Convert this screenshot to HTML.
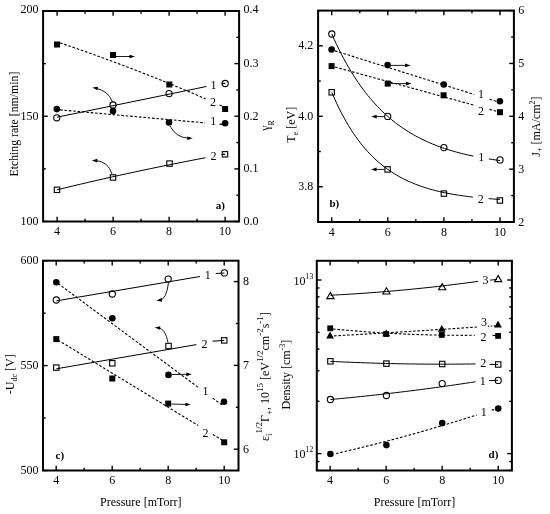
<!DOCTYPE html>
<html><head><meta charset="utf-8"><style>
html,body{margin:0;padding:0;background:#fff;}
svg{display:block;}
text{font-family:'Liberation Serif', 'Times New Roman', serif;fill:#000;}
</style></head><body>
<svg width="550" height="514" viewBox="0 0 550 514">
<rect width="550" height="514" fill="#fff"/>
<line x1="57.1" y1="221.5" x2="57.1" y2="216.8" stroke="#000" stroke-width="1.4"/>
<line x1="57.1" y1="11" x2="57.1" y2="15.7" stroke="#000" stroke-width="1.4"/>
<text x="57.1" y="235.3" font-size="12" text-anchor="middle" font-weight="normal">4</text>
<line x1="85.1" y1="221.5" x2="85.1" y2="218.8" stroke="#000" stroke-width="1.4"/>
<line x1="85.1" y1="11" x2="85.1" y2="13.7" stroke="#000" stroke-width="1.4"/>
<line x1="113.1" y1="221.5" x2="113.1" y2="216.8" stroke="#000" stroke-width="1.4"/>
<line x1="113.1" y1="11" x2="113.1" y2="15.7" stroke="#000" stroke-width="1.4"/>
<text x="113.1" y="235.3" font-size="12" text-anchor="middle" font-weight="normal">6</text>
<line x1="141.1" y1="221.5" x2="141.1" y2="218.8" stroke="#000" stroke-width="1.4"/>
<line x1="141.1" y1="11" x2="141.1" y2="13.7" stroke="#000" stroke-width="1.4"/>
<line x1="169.1" y1="221.5" x2="169.1" y2="216.8" stroke="#000" stroke-width="1.4"/>
<line x1="169.1" y1="11" x2="169.1" y2="15.7" stroke="#000" stroke-width="1.4"/>
<text x="169.1" y="235.3" font-size="12" text-anchor="middle" font-weight="normal">8</text>
<line x1="197.1" y1="221.5" x2="197.1" y2="218.8" stroke="#000" stroke-width="1.4"/>
<line x1="197.1" y1="11" x2="197.1" y2="13.7" stroke="#000" stroke-width="1.4"/>
<line x1="225.1" y1="221.5" x2="225.1" y2="216.8" stroke="#000" stroke-width="1.4"/>
<line x1="225.1" y1="11" x2="225.1" y2="15.7" stroke="#000" stroke-width="1.4"/>
<text x="225.1" y="235.3" font-size="12" text-anchor="middle" font-weight="normal">10</text>
<line x1="43.1" y1="221.5" x2="47.8" y2="221.5" stroke="#000" stroke-width="1.4"/>
<text x="38.6" y="225.1" font-size="12" text-anchor="end" font-weight="normal">100</text>
<line x1="43.1" y1="168.88" x2="45.8" y2="168.88" stroke="#000" stroke-width="1.4"/>
<line x1="43.1" y1="116.25" x2="47.8" y2="116.25" stroke="#000" stroke-width="1.4"/>
<text x="38.6" y="119.85" font-size="12" text-anchor="end" font-weight="normal">150</text>
<line x1="43.1" y1="63.62" x2="45.8" y2="63.62" stroke="#000" stroke-width="1.4"/>
<line x1="43.1" y1="11" x2="47.8" y2="11" stroke="#000" stroke-width="1.4"/>
<text x="38.6" y="13.4" font-size="12" text-anchor="end" font-weight="normal">200</text>
<line x1="239.1" y1="221.5" x2="234.4" y2="221.5" stroke="#000" stroke-width="1.4"/>
<text x="243.4" y="225.1" font-size="12" text-anchor="start" font-weight="normal">0.0</text>
<line x1="239.1" y1="195.19" x2="236.4" y2="195.19" stroke="#000" stroke-width="1.4"/>
<line x1="239.1" y1="168.88" x2="234.4" y2="168.88" stroke="#000" stroke-width="1.4"/>
<text x="243.4" y="172.47" font-size="12" text-anchor="start" font-weight="normal">0.1</text>
<line x1="239.1" y1="142.56" x2="236.4" y2="142.56" stroke="#000" stroke-width="1.4"/>
<line x1="239.1" y1="116.25" x2="234.4" y2="116.25" stroke="#000" stroke-width="1.4"/>
<text x="243.4" y="119.85" font-size="12" text-anchor="start" font-weight="normal">0.2</text>
<line x1="239.1" y1="89.94" x2="236.4" y2="89.94" stroke="#000" stroke-width="1.4"/>
<line x1="239.1" y1="63.62" x2="234.4" y2="63.62" stroke="#000" stroke-width="1.4"/>
<text x="243.4" y="67.22" font-size="12" text-anchor="start" font-weight="normal">0.3</text>
<line x1="239.1" y1="37.31" x2="236.4" y2="37.31" stroke="#000" stroke-width="1.4"/>
<line x1="239.1" y1="11" x2="234.4" y2="11" stroke="#000" stroke-width="1.4"/>
<text x="243.4" y="13.4" font-size="12" text-anchor="start" font-weight="normal">0.4</text>
<polyline points="60,42.86 63.73,44.12 67.46,45.39 71.19,46.67 74.92,47.96 78.65,49.25 82.38,50.56 86.12,51.87 89.85,53.2 93.58,54.53 97.31,55.87 101.04,57.22 104.77,58.59 108.5,59.95 112.23,61.33 115.96,62.72 119.69,64.12 123.42,65.52 127.15,66.94 130.88,68.36 134.62,69.8 138.35,71.24 142.08,72.69 145.81,74.15 149.54,75.62 153.27,77.1 157,78.59 160.73,80.09 164.46,81.59 168.19,83.11 171.92,84.63 175.65,86.17 179.38,87.71 183.12,89.26 186.85,90.82 190.58,92.39 194.31,93.97 198.04,95.56 201.77,97.16 205.5,98.77" fill="none" stroke="#000" stroke-width="1.1" stroke-dasharray="2.6 1.8"/>
<polyline points="219.5,104.88 220.75,105.43 222,105.98" fill="none" stroke="#000" stroke-width="1.1"/>
<polyline points="60,109.87 205,122.85" fill="none" stroke="#000" stroke-width="1.1" stroke-dasharray="2.6 1.8"/>
<polyline points="219.5,124.14 222,124.37" fill="none" stroke="#000" stroke-width="1.1"/>
<polyline points="57,117.2 206.4,86.5" fill="none" stroke="#000" stroke-width="1.0"/>
<polyline points="57,189.8 64.82,187.9 72.63,186.03 80.45,184.19 88.26,182.36 96.08,180.56 103.89,178.78 111.71,177.03 119.53,175.29 127.34,173.58 135.16,171.9 142.97,170.23 150.79,168.59 158.61,166.97 166.42,165.38 174.24,163.8 182.05,162.25 189.87,160.73 197.68,159.22 205.5,157.74" fill="none" stroke="#000" stroke-width="1.0"/>
<line x1="221.5" y1="83.8" x2="225.2" y2="83.3" stroke="#000" stroke-width="1.0"/>
<line x1="221.5" y1="154.3" x2="225.1" y2="154.3" stroke="#000" stroke-width="1.0"/>
<rect x="54" y="41.5" width="6.0" height="6.0" fill="#000"/>
<rect x="110" y="52" width="6.0" height="6.0" fill="#000"/>
<rect x="166.3" y="81.5" width="6.0" height="6.0" fill="#000"/>
<rect x="222.1" y="106" width="6.0" height="6.0" fill="#000"/>
<circle cx="56.8" cy="109.1" r="3.3" fill="#000"/>
<circle cx="113" cy="111" r="3.3" fill="#000"/>
<circle cx="169" cy="122.5" r="3.3" fill="#000"/>
<circle cx="225.1" cy="123.2" r="3.3" fill="#000"/>
<circle cx="56.8" cy="117.8" r="3.1" fill="none" stroke="#000" stroke-width="1.1"/>
<circle cx="113" cy="105" r="3.1" fill="none" stroke="#000" stroke-width="1.1"/>
<circle cx="169.1" cy="93.6" r="3.1" fill="none" stroke="#000" stroke-width="1.1"/>
<circle cx="225.2" cy="83.5" r="3.1" fill="none" stroke="#000" stroke-width="1.1"/>
<rect x="54.3" y="187.1" width="5.4" height="5.4" fill="none" stroke="#000" stroke-width="1.1"/>
<rect x="110.3" y="174.8" width="5.4" height="5.4" fill="none" stroke="#000" stroke-width="1.1"/>
<rect x="166.8" y="160.9" width="5.4" height="5.4" fill="none" stroke="#000" stroke-width="1.1"/>
<rect x="222.3" y="151.6" width="5.4" height="5.4" fill="none" stroke="#000" stroke-width="1.1"/>
<line x1="222" y1="83.6" x2="225.2" y2="83.3" stroke="#000" stroke-width="1.0"/>
<line x1="222.3" y1="154.3" x2="225.1" y2="154.3" stroke="#000" stroke-width="1.0"/>
<line x1="116" y1="56.5" x2="131.7" y2="56.5" stroke="#000" stroke-width="0.9"/>
<polygon points="135,56.5 129.5,58.3 129.5,54.7" fill="#000"/>
<path d="M112.5,101.8 Q108,90.5 95.55,88.2" fill="none" stroke="#000" stroke-width="0.9"/>
<polygon points="92.3,87.6 98.04,86.83 97.38,90.37" fill="#000"/>
<path d="M170,126 Q176,138 189.5,138.24" fill="none" stroke="#000" stroke-width="0.9"/>
<polygon points="192.8,138.3 187.27,140 187.33,136.4" fill="#000"/>
<path d="M112,174 Q108,161 95.1,160.52" fill="none" stroke="#000" stroke-width="0.9"/>
<polygon points="91.8,160.4 97.36,158.8 97.23,162.4" fill="#000"/>
<text x="213.6" y="88.7" font-size="12" text-anchor="middle" font-weight="normal">1</text>
<text x="213" y="106" font-size="12" text-anchor="middle" font-weight="normal">2</text>
<text x="213.2" y="124.5" font-size="12" text-anchor="middle" font-weight="normal">1</text>
<text x="213.4" y="159.8" font-size="12" text-anchor="middle" font-weight="normal">2</text>
<text x="220.4" y="208.8" font-size="11" text-anchor="middle" font-weight="bold">a)</text>
<text transform="translate(17.9,124.1) rotate(-90)" font-size="11.8" text-anchor="middle">Etching rate [nm/min]</text>
<text transform="translate(268.6,125.5) rotate(-90)" font-size="12" text-anchor="middle">&#947;<tspan font-size="8" dy="5.4">R</tspan></text>
<rect x="43.1" y="11" width="196" height="210.5" fill="none" stroke="#000" stroke-width="2.0" stroke-linejoin="miter"/>
<line x1="331.7" y1="222" x2="331.7" y2="217.3" stroke="#000" stroke-width="1.4"/>
<line x1="331.7" y1="10.6" x2="331.7" y2="15.3" stroke="#000" stroke-width="1.4"/>
<text x="331.7" y="235.8" font-size="12" text-anchor="middle" font-weight="normal">4</text>
<line x1="359.75" y1="222" x2="359.75" y2="219.3" stroke="#000" stroke-width="1.4"/>
<line x1="359.75" y1="10.6" x2="359.75" y2="13.3" stroke="#000" stroke-width="1.4"/>
<line x1="387.8" y1="222" x2="387.8" y2="217.3" stroke="#000" stroke-width="1.4"/>
<line x1="387.8" y1="10.6" x2="387.8" y2="15.3" stroke="#000" stroke-width="1.4"/>
<text x="387.8" y="235.8" font-size="12" text-anchor="middle" font-weight="normal">6</text>
<line x1="415.85" y1="222" x2="415.85" y2="219.3" stroke="#000" stroke-width="1.4"/>
<line x1="415.85" y1="10.6" x2="415.85" y2="13.3" stroke="#000" stroke-width="1.4"/>
<line x1="443.9" y1="222" x2="443.9" y2="217.3" stroke="#000" stroke-width="1.4"/>
<line x1="443.9" y1="10.6" x2="443.9" y2="15.3" stroke="#000" stroke-width="1.4"/>
<text x="443.9" y="235.8" font-size="12" text-anchor="middle" font-weight="normal">8</text>
<line x1="471.95" y1="222" x2="471.95" y2="219.3" stroke="#000" stroke-width="1.4"/>
<line x1="471.95" y1="10.6" x2="471.95" y2="13.3" stroke="#000" stroke-width="1.4"/>
<line x1="500" y1="222" x2="500" y2="217.3" stroke="#000" stroke-width="1.4"/>
<line x1="500" y1="10.6" x2="500" y2="15.3" stroke="#000" stroke-width="1.4"/>
<text x="500" y="235.8" font-size="12" text-anchor="middle" font-weight="normal">10</text>
<line x1="318.1" y1="222" x2="320.8" y2="222" stroke="#000" stroke-width="1.4"/>
<line x1="318.1" y1="186.77" x2="322.8" y2="186.77" stroke="#000" stroke-width="1.4"/>
<text x="313.2" y="190.37" font-size="12" text-anchor="end" font-weight="normal">3.8</text>
<line x1="318.1" y1="151.53" x2="320.8" y2="151.53" stroke="#000" stroke-width="1.4"/>
<line x1="318.1" y1="116.3" x2="322.8" y2="116.3" stroke="#000" stroke-width="1.4"/>
<text x="313.2" y="119.9" font-size="12" text-anchor="end" font-weight="normal">4.0</text>
<line x1="318.1" y1="81.07" x2="320.8" y2="81.07" stroke="#000" stroke-width="1.4"/>
<line x1="318.1" y1="45.83" x2="322.8" y2="45.83" stroke="#000" stroke-width="1.4"/>
<text x="313.2" y="49.43" font-size="12" text-anchor="end" font-weight="normal">4.2</text>
<line x1="318.1" y1="10.6" x2="320.8" y2="10.6" stroke="#000" stroke-width="1.4"/>
<line x1="513.9" y1="222" x2="509.2" y2="222" stroke="#000" stroke-width="1.4"/>
<text x="518.3" y="225.6" font-size="12" text-anchor="start" font-weight="normal">2</text>
<line x1="513.9" y1="195.57" x2="511.2" y2="195.57" stroke="#000" stroke-width="1.4"/>
<line x1="513.9" y1="169.15" x2="509.2" y2="169.15" stroke="#000" stroke-width="1.4"/>
<text x="518.3" y="172.75" font-size="12" text-anchor="start" font-weight="normal">3</text>
<line x1="513.9" y1="142.72" x2="511.2" y2="142.72" stroke="#000" stroke-width="1.4"/>
<line x1="513.9" y1="116.3" x2="509.2" y2="116.3" stroke="#000" stroke-width="1.4"/>
<text x="518.3" y="119.9" font-size="12" text-anchor="start" font-weight="normal">4</text>
<line x1="513.9" y1="89.88" x2="511.2" y2="89.88" stroke="#000" stroke-width="1.4"/>
<line x1="513.9" y1="63.45" x2="509.2" y2="63.45" stroke="#000" stroke-width="1.4"/>
<text x="518.3" y="67.05" font-size="12" text-anchor="start" font-weight="normal">5</text>
<line x1="513.9" y1="37.03" x2="511.2" y2="37.03" stroke="#000" stroke-width="1.4"/>
<line x1="513.9" y1="10.6" x2="509.2" y2="10.6" stroke="#000" stroke-width="1.4"/>
<text x="518.3" y="14.2" font-size="12" text-anchor="start" font-weight="normal">6</text>
<polyline points="331.8,34 334.2,39.37 336.6,44.52 339,49.47 341.4,54.22 343.8,58.77 346.2,63.15 348.6,67.35 351,71.39 353.4,75.26 355.8,78.97 358.2,82.54 360.6,85.97 363,89.26 365.4,92.41 367.8,95.45 370.2,98.36 372.6,101.15 375,103.83 377.4,106.41 379.8,108.88 382.2,111.25 384.6,113.53 387,115.71 389.4,117.81 391.8,119.83 394.2,121.76 396.6,123.62 399,125.4 401.4,127.11 403.8,128.76 406.2,130.34 408.6,131.85 411,133.3 413.4,134.7 415.8,136.04 418.2,137.33 420.6,138.56 423,139.75 425.4,140.88 427.8,141.98 430.2,143.02 432.6,144.03 435,145 437.4,145.93 439.8,146.82 442.2,147.67 444.6,148.49 447,149.28 449.4,150.04 451.8,150.76 454.2,151.46 456.6,152.13 459,152.77 461.4,153.39 463.8,153.98 466.2,154.55 468.6,155.1 471,155.62 473.4,156.12" fill="none" stroke="#000" stroke-width="1.0"/>
<polyline points="488.9,158.92 492.6,159.49 496.3,160.02 500,160.52" fill="none" stroke="#000" stroke-width="1.0"/>
<polyline points="331.8,92.4 334.19,97.91 336.58,103.15 338.97,108.13 341.37,112.85 343.76,117.34 346.15,121.61 348.54,125.66 350.93,129.5 353.32,133.16 355.72,136.63 358.11,139.93 360.5,143.06 362.89,146.03 365.28,148.86 367.67,151.54 370.06,154.09 372.46,156.51 374.85,158.81 377.24,161 379.63,163.07 382.02,165.05 384.41,166.92 386.81,168.7 389.2,170.39 391.59,171.99 393.98,173.52 396.37,174.96 398.76,176.34 401.15,177.65 403.55,178.89 405.94,180.07 408.33,181.19 410.72,182.25 413.11,183.26 415.5,184.22 417.89,185.13 420.29,186 422.68,186.82 425.07,187.6 427.46,188.34 429.85,189.05 432.24,189.72 434.64,190.35 437.03,190.96 439.42,191.53 441.81,192.07 444.2,192.59 446.59,193.08 448.98,193.55 451.38,193.99 453.77,194.42 456.16,194.82 458.55,195.2 460.94,195.56 463.33,195.9 465.73,196.23 468.12,196.54 470.51,196.83 472.9,197.11" fill="none" stroke="#000" stroke-width="1.0"/>
<polyline points="488.6,198.62 492.4,198.92 496.2,199.19 500,199.45" fill="none" stroke="#000" stroke-width="1.0"/>
<polyline points="335,50.86 474.2,94.43" fill="none" stroke="#000" stroke-width="1.1" stroke-dasharray="2.6 1.8"/>
<polyline points="489.5,99.22 497,101.57" fill="none" stroke="#000" stroke-width="1.1" stroke-dasharray="2.6 1.8"/>
<polyline points="335,67.03 474,105.12" fill="none" stroke="#000" stroke-width="1.1" stroke-dasharray="2.6 1.8"/>
<polyline points="489.5,109.36 497,111.42" fill="none" stroke="#000" stroke-width="1.1" stroke-dasharray="2.6 1.8"/>
<circle cx="331.8" cy="34" r="3.1" fill="none" stroke="#000" stroke-width="1.1"/>
<circle cx="387.7" cy="116.4" r="3.1" fill="none" stroke="#000" stroke-width="1.1"/>
<circle cx="443.9" cy="147.6" r="3.1" fill="none" stroke="#000" stroke-width="1.1"/>
<circle cx="500" cy="159.9" r="3.1" fill="none" stroke="#000" stroke-width="1.1"/>
<rect x="329" y="89.6" width="5.4" height="5.4" fill="none" stroke="#000" stroke-width="1.1"/>
<rect x="384.9" y="166.7" width="5.4" height="5.4" fill="none" stroke="#000" stroke-width="1.1"/>
<rect x="441.2" y="190.9" width="5.4" height="5.4" fill="none" stroke="#000" stroke-width="1.1"/>
<rect x="497.2" y="197.8" width="5.4" height="5.4" fill="none" stroke="#000" stroke-width="1.1"/>
<circle cx="331.6" cy="49.5" r="3.3" fill="#000"/>
<circle cx="387.6" cy="65.1" r="3.3" fill="#000"/>
<circle cx="443.8" cy="84.5" r="3.3" fill="#000"/>
<circle cx="499.9" cy="101.3" r="3.3" fill="#000"/>
<rect x="328.6" y="63.1" width="6.0" height="6.0" fill="#000"/>
<rect x="384.7" y="80.6" width="6.0" height="6.0" fill="#000"/>
<rect x="440.6" y="92.3" width="6.0" height="6.0" fill="#000"/>
<rect x="497" y="109.2" width="6.0" height="6.0" fill="#000"/>
<line x1="391" y1="65.4" x2="407.3" y2="65.4" stroke="#000" stroke-width="0.9"/>
<polygon points="410.6,65.4 405.1,67.2 405.1,63.6" fill="#000"/>
<line x1="390.7" y1="83.6" x2="408.2" y2="83.6" stroke="#000" stroke-width="0.9"/>
<polygon points="411.5,83.6 406,85.4 406,81.8" fill="#000"/>
<line x1="384.3" y1="116.6" x2="374.5" y2="116.6" stroke="#000" stroke-width="0.9"/>
<polygon points="371.2,116.6 376.7,114.8 376.7,118.4" fill="#000"/>
<line x1="384.5" y1="169.4" x2="374.3" y2="169.4" stroke="#000" stroke-width="0.9"/>
<polygon points="371,169.4 376.5,167.6 376.5,171.2" fill="#000"/>
<text x="481.1" y="97.6" font-size="12" text-anchor="middle" font-weight="normal">1</text>
<text x="481" y="114.8" font-size="12" text-anchor="middle" font-weight="normal">2</text>
<text x="481.3" y="161" font-size="12" text-anchor="middle" font-weight="normal">1</text>
<text x="480.8" y="202.8" font-size="12" text-anchor="middle" font-weight="normal">2</text>
<text x="334.3" y="207.4" font-size="11" text-anchor="middle" font-weight="bold">b)</text>
<text transform="translate(294.8,124.7) rotate(-90)" font-size="12" text-anchor="middle">T<tspan font-size="8" dy="3">e</tspan><tspan dy="-3"> [eV]</tspan></text>
<text transform="translate(540.2,126.6) rotate(-90)" font-size="12" text-anchor="middle">J<tspan font-size="8" dy="1.8">+</tspan><tspan dy="-1.8"> [mA/cm</tspan><tspan font-size="8" dy="-5">2</tspan><tspan dy="5">]</tspan></text>
<rect x="318.1" y="10.6" width="195.8" height="211.4" fill="none" stroke="#000" stroke-width="2.0" stroke-linejoin="miter"/>
<line x1="56.2" y1="470.5" x2="56.2" y2="465.8" stroke="#000" stroke-width="1.4"/>
<line x1="56.2" y1="260.7" x2="56.2" y2="265.4" stroke="#000" stroke-width="1.4"/>
<text x="56.2" y="484" font-size="12" text-anchor="middle" font-weight="normal">4</text>
<line x1="84.2" y1="470.5" x2="84.2" y2="467.8" stroke="#000" stroke-width="1.4"/>
<line x1="84.2" y1="260.7" x2="84.2" y2="263.4" stroke="#000" stroke-width="1.4"/>
<line x1="112.2" y1="470.5" x2="112.2" y2="465.8" stroke="#000" stroke-width="1.4"/>
<line x1="112.2" y1="260.7" x2="112.2" y2="265.4" stroke="#000" stroke-width="1.4"/>
<text x="112.2" y="484" font-size="12" text-anchor="middle" font-weight="normal">6</text>
<line x1="140.2" y1="470.5" x2="140.2" y2="467.8" stroke="#000" stroke-width="1.4"/>
<line x1="140.2" y1="260.7" x2="140.2" y2="263.4" stroke="#000" stroke-width="1.4"/>
<line x1="168.2" y1="470.5" x2="168.2" y2="465.8" stroke="#000" stroke-width="1.4"/>
<line x1="168.2" y1="260.7" x2="168.2" y2="265.4" stroke="#000" stroke-width="1.4"/>
<text x="168.2" y="484" font-size="12" text-anchor="middle" font-weight="normal">8</text>
<line x1="196.2" y1="470.5" x2="196.2" y2="467.8" stroke="#000" stroke-width="1.4"/>
<line x1="196.2" y1="260.7" x2="196.2" y2="263.4" stroke="#000" stroke-width="1.4"/>
<line x1="224.2" y1="470.5" x2="224.2" y2="465.8" stroke="#000" stroke-width="1.4"/>
<line x1="224.2" y1="260.7" x2="224.2" y2="265.4" stroke="#000" stroke-width="1.4"/>
<text x="224.2" y="484" font-size="12" text-anchor="middle" font-weight="normal">10</text>
<line x1="43" y1="470.5" x2="47.7" y2="470.5" stroke="#000" stroke-width="1.4"/>
<text x="38.4" y="474.1" font-size="12" text-anchor="end" font-weight="normal">500</text>
<line x1="43" y1="418.05" x2="45.7" y2="418.05" stroke="#000" stroke-width="1.4"/>
<line x1="43" y1="365.6" x2="47.7" y2="365.6" stroke="#000" stroke-width="1.4"/>
<text x="38.4" y="369.2" font-size="12" text-anchor="end" font-weight="normal">550</text>
<line x1="43" y1="313.15" x2="45.7" y2="313.15" stroke="#000" stroke-width="1.4"/>
<line x1="43" y1="260.7" x2="47.7" y2="260.7" stroke="#000" stroke-width="1.4"/>
<text x="38.4" y="264.3" font-size="12" text-anchor="end" font-weight="normal">600</text>
<line x1="238.5" y1="449.2" x2="233.8" y2="449.2" stroke="#000" stroke-width="1.4"/>
<text x="243" y="452.8" font-size="12" text-anchor="start" font-weight="normal">6</text>
<line x1="238.5" y1="407.3" x2="235.8" y2="407.3" stroke="#000" stroke-width="1.4"/>
<line x1="238.5" y1="365.4" x2="233.8" y2="365.4" stroke="#000" stroke-width="1.4"/>
<text x="243" y="369" font-size="12" text-anchor="start" font-weight="normal">7</text>
<line x1="238.5" y1="323.5" x2="235.8" y2="323.5" stroke="#000" stroke-width="1.4"/>
<line x1="238.5" y1="281.6" x2="233.8" y2="281.6" stroke="#000" stroke-width="1.4"/>
<text x="243" y="285.2" font-size="12" text-anchor="start" font-weight="normal">8</text>
<polyline points="56.3,300.9 200,276.5" fill="none" stroke="#000" stroke-width="1.0"/>
<line x1="215.7" y1="273.5" x2="224.4" y2="273" stroke="#000" stroke-width="1.0"/>
<polyline points="56.3,368.8 196.4,344.6" fill="none" stroke="#000" stroke-width="1.0"/>
<line x1="212.4" y1="341.2" x2="224.2" y2="340.4" stroke="#000" stroke-width="1.0"/>
<polyline points="58,283.46 198.2,387.35" fill="none" stroke="#000" stroke-width="1.1" stroke-dasharray="2.6 1.8"/>
<polyline points="212.7,398.09 222,404.98" fill="none" stroke="#000" stroke-width="1.1" stroke-dasharray="2.6 1.8"/>
<polyline points="58,340.14 198.2,425.52" fill="none" stroke="#000" stroke-width="1.1" stroke-dasharray="2.6 1.8"/>
<polyline points="212.8,434.41 222,440.01" fill="none" stroke="#000" stroke-width="1.1" stroke-dasharray="2.6 1.8"/>
<circle cx="56.3" cy="282.2" r="3.3" fill="#000"/>
<circle cx="112.3" cy="318.2" r="3.3" fill="#000"/>
<circle cx="168.5" cy="374.9" r="3.3" fill="#000"/>
<circle cx="224" cy="401.8" r="3.3" fill="#000"/>
<rect x="53.3" y="336.1" width="6.0" height="6.0" fill="#000"/>
<rect x="109.3" y="375.5" width="6.0" height="6.0" fill="#000"/>
<rect x="165.2" y="400.6" width="6.0" height="6.0" fill="#000"/>
<rect x="221.2" y="439.3" width="6.0" height="6.0" fill="#000"/>
<circle cx="56.3" cy="300" r="3.1" fill="none" stroke="#000" stroke-width="1.1"/>
<circle cx="112.3" cy="294" r="3.1" fill="none" stroke="#000" stroke-width="1.1"/>
<circle cx="168.2" cy="279.1" r="3.1" fill="none" stroke="#000" stroke-width="1.1"/>
<circle cx="224.4" cy="272.9" r="3.1" fill="none" stroke="#000" stroke-width="1.1"/>
<rect x="53.6" y="364.9" width="5.4" height="5.4" fill="none" stroke="#000" stroke-width="1.1"/>
<rect x="109.6" y="360.6" width="5.4" height="5.4" fill="none" stroke="#000" stroke-width="1.1"/>
<rect x="165.8" y="343.3" width="5.4" height="5.4" fill="none" stroke="#000" stroke-width="1.1"/>
<rect x="221.5" y="337.7" width="5.4" height="5.4" fill="none" stroke="#000" stroke-width="1.1"/>
<line x1="172" y1="374.5" x2="188.5" y2="374.33" stroke="#000" stroke-width="0.9"/>
<polygon points="191.8,374.3 186.32,376.16 186.28,372.56" fill="#000"/>
<line x1="171.5" y1="404" x2="187.6" y2="404.5" stroke="#000" stroke-width="0.9"/>
<polygon points="190.9,404.6 185.35,406.23 185.46,402.63" fill="#000"/>
<path d="M168.5,282.5 Q166.5,299.5 159.69,300.11" fill="none" stroke="#000" stroke-width="0.9"/>
<polygon points="156.4,300.4 161.72,298.12 162.04,301.7" fill="#000"/>
<path d="M168,342.5 Q165.5,328.5 157.99,327.8" fill="none" stroke="#000" stroke-width="0.9"/>
<polygon points="154.7,327.5 160.34,326.21 160.01,329.8" fill="#000"/>
<text x="207.7" y="278.8" font-size="12" text-anchor="middle" font-weight="normal">1</text>
<text x="204.6" y="348" font-size="12" text-anchor="middle" font-weight="normal">2</text>
<text x="205.6" y="395" font-size="12" text-anchor="middle" font-weight="normal">1</text>
<text x="205.6" y="436.8" font-size="12" text-anchor="middle" font-weight="normal">2</text>
<text x="59.8" y="458.9" font-size="11" text-anchor="middle" font-weight="bold">c)</text>
<text x="140.75" y="505.6" font-size="12" text-anchor="middle" font-weight="normal">Pressure [mTorr]</text>
<text transform="translate(13.9,374.2) rotate(-90)" font-size="12" text-anchor="middle">-U<tspan font-size="8" dy="3">dc</tspan><tspan dy="-3"> [V]</tspan></text>
<text transform="translate(268.8,376.6) rotate(-90)" font-size="12" text-anchor="middle">&#949;<tspan font-size="9" dy="3">i</tspan><tspan font-size="9" dy="-9.5">1/2</tspan><tspan dy="6.5">&#915;</tspan><tspan font-size="9" dy="3">+</tspan><tspan dy="-3">, 10</tspan><tspan font-size="9" dy="-5.5">15</tspan><tspan dy="5.5"> [eV</tspan><tspan font-size="9" dy="-5.5">1/2</tspan><tspan dy="5.5">cm</tspan><tspan font-size="9" dy="-5.5">-2</tspan><tspan dy="5.5">s</tspan><tspan font-size="9" dy="-5.5">-1</tspan><tspan dy="5.5">]</tspan></text>
<rect x="43" y="260.7" width="195.5" height="209.8" fill="none" stroke="#000" stroke-width="2.0" stroke-linejoin="miter"/>
<line x1="330.1" y1="470.5" x2="330.1" y2="465.8" stroke="#000" stroke-width="1.4"/>
<line x1="330.1" y1="260.8" x2="330.1" y2="265.5" stroke="#000" stroke-width="1.4"/>
<text x="330.1" y="484" font-size="12" text-anchor="middle" font-weight="normal">4</text>
<line x1="358.12" y1="470.5" x2="358.12" y2="467.8" stroke="#000" stroke-width="1.4"/>
<line x1="358.12" y1="260.8" x2="358.12" y2="263.5" stroke="#000" stroke-width="1.4"/>
<line x1="386.13" y1="470.5" x2="386.13" y2="465.8" stroke="#000" stroke-width="1.4"/>
<line x1="386.13" y1="260.8" x2="386.13" y2="265.5" stroke="#000" stroke-width="1.4"/>
<text x="386.13" y="484" font-size="12" text-anchor="middle" font-weight="normal">6</text>
<line x1="414.15" y1="470.5" x2="414.15" y2="467.8" stroke="#000" stroke-width="1.4"/>
<line x1="414.15" y1="260.8" x2="414.15" y2="263.5" stroke="#000" stroke-width="1.4"/>
<line x1="442.17" y1="470.5" x2="442.17" y2="465.8" stroke="#000" stroke-width="1.4"/>
<line x1="442.17" y1="260.8" x2="442.17" y2="265.5" stroke="#000" stroke-width="1.4"/>
<text x="442.17" y="484" font-size="12" text-anchor="middle" font-weight="normal">8</text>
<line x1="470.18" y1="470.5" x2="470.18" y2="467.8" stroke="#000" stroke-width="1.4"/>
<line x1="470.18" y1="260.8" x2="470.18" y2="263.5" stroke="#000" stroke-width="1.4"/>
<line x1="498.2" y1="470.5" x2="498.2" y2="465.8" stroke="#000" stroke-width="1.4"/>
<line x1="498.2" y1="260.8" x2="498.2" y2="265.5" stroke="#000" stroke-width="1.4"/>
<text x="498.2" y="484" font-size="12" text-anchor="middle" font-weight="normal">10</text>
<line x1="316.8" y1="470.42" x2="319.5" y2="470.42" stroke="#000" stroke-width="1.4"/>
<line x1="511.9" y1="470.42" x2="509.2" y2="470.42" stroke="#000" stroke-width="1.4"/>
<line x1="316.8" y1="461.54" x2="319.5" y2="461.54" stroke="#000" stroke-width="1.4"/>
<line x1="511.9" y1="461.54" x2="509.2" y2="461.54" stroke="#000" stroke-width="1.4"/>
<line x1="316.8" y1="453.6" x2="321.5" y2="453.6" stroke="#000" stroke-width="1.4"/>
<line x1="511.9" y1="453.6" x2="507.2" y2="453.6" stroke="#000" stroke-width="1.4"/>
<line x1="316.8" y1="401.34" x2="319.5" y2="401.34" stroke="#000" stroke-width="1.4"/>
<line x1="511.9" y1="401.34" x2="509.2" y2="401.34" stroke="#000" stroke-width="1.4"/>
<line x1="316.8" y1="370.77" x2="319.5" y2="370.77" stroke="#000" stroke-width="1.4"/>
<line x1="511.9" y1="370.77" x2="509.2" y2="370.77" stroke="#000" stroke-width="1.4"/>
<line x1="316.8" y1="349.08" x2="319.5" y2="349.08" stroke="#000" stroke-width="1.4"/>
<line x1="511.9" y1="349.08" x2="509.2" y2="349.08" stroke="#000" stroke-width="1.4"/>
<line x1="316.8" y1="332.26" x2="319.5" y2="332.26" stroke="#000" stroke-width="1.4"/>
<line x1="511.9" y1="332.26" x2="509.2" y2="332.26" stroke="#000" stroke-width="1.4"/>
<line x1="316.8" y1="318.51" x2="319.5" y2="318.51" stroke="#000" stroke-width="1.4"/>
<line x1="511.9" y1="318.51" x2="509.2" y2="318.51" stroke="#000" stroke-width="1.4"/>
<line x1="316.8" y1="306.89" x2="319.5" y2="306.89" stroke="#000" stroke-width="1.4"/>
<line x1="511.9" y1="306.89" x2="509.2" y2="306.89" stroke="#000" stroke-width="1.4"/>
<line x1="316.8" y1="296.82" x2="319.5" y2="296.82" stroke="#000" stroke-width="1.4"/>
<line x1="511.9" y1="296.82" x2="509.2" y2="296.82" stroke="#000" stroke-width="1.4"/>
<line x1="316.8" y1="287.94" x2="319.5" y2="287.94" stroke="#000" stroke-width="1.4"/>
<line x1="511.9" y1="287.94" x2="509.2" y2="287.94" stroke="#000" stroke-width="1.4"/>
<line x1="316.8" y1="280" x2="321.5" y2="280" stroke="#000" stroke-width="1.4"/>
<line x1="511.9" y1="280" x2="507.2" y2="280" stroke="#000" stroke-width="1.4"/>
<text x="305.5" y="458.2" font-size="12" text-anchor="end">10</text>
<text x="305.6" y="452.4" font-size="7.6" text-anchor="start">12</text>
<text x="305.5" y="284.6" font-size="12" text-anchor="end">10</text>
<text x="305.6" y="278.8" font-size="7.6" text-anchor="start">13</text>
<polyline points="330.4,295.23 335.49,294.97 340.59,294.69 345.68,294.4 350.77,294.1 355.87,293.77 360.96,293.44 366.05,293.08 371.14,292.71 376.24,292.33 381.33,291.93 386.42,291.52 391.52,291.08 396.61,290.64 401.7,290.18 406.8,289.7 411.89,289.2 416.98,288.7 422.08,288.17 427.17,287.63 432.26,287.07 437.36,286.5 442.45,285.92 447.54,285.31 452.63,284.7 457.73,284.06 462.82,283.41 467.91,282.75 473.01,282.07 478.1,281.37" fill="none" stroke="#000" stroke-width="1.0"/>
<line x1="490.2" y1="280.1" x2="497" y2="279.5" stroke="#000" stroke-width="1.0"/>
<polyline points="333,328.96 337.89,329.43 342.78,329.88 347.67,330.32 352.56,330.73 357.45,331.13 362.34,331.51 367.23,331.87 372.12,332.21 377.01,332.54 381.9,332.85 386.79,333.14 391.68,333.41 396.57,333.66 401.46,333.9 406.34,334.12 411.23,334.32 416.12,334.5 421.01,334.66 425.9,334.81 430.79,334.94 435.68,335.05 440.57,335.14 445.46,335.21 450.35,335.27 455.24,335.3 460.13,335.32 465.02,335.33 469.91,335.31 474.8,335.28" fill="none" stroke="#000" stroke-width="1.1" stroke-dasharray="2.6 1.8"/>
<line x1="492.6" y1="335.4" x2="496" y2="335.5" stroke="#000" stroke-width="1.2"/>
<polyline points="334,335.85 338.93,335.58 343.86,335.3 348.79,335.03 353.72,334.75 358.66,334.47 363.59,334.19 368.52,333.9 373.45,333.61 378.38,333.32 383.31,333.03 388.24,332.74 393.17,332.44 398.1,332.14 403.03,331.84 407.97,331.53 412.9,331.22 417.83,330.92 422.76,330.6 427.69,330.29 432.62,329.97 437.55,329.65 442.48,329.33 447.41,329.01 452.34,328.68 457.28,328.36 462.21,328.02 467.14,327.69 472.07,327.36 477,327.02" fill="none" stroke="#000" stroke-width="1.1" stroke-dasharray="2.6 1.8"/>
<polyline points="487.8,326.21 495,325.85" fill="none" stroke="#000" stroke-width="1.1" stroke-dasharray="1.5 1.5"/>
<polyline points="330.4,361.34 335.4,361.59 340.41,361.83 345.41,362.05 350.41,362.27 355.42,362.47 360.42,362.66 365.42,362.84 370.43,363.01 375.43,363.17 380.43,363.31 385.44,363.45 390.44,363.57 395.44,363.68 400.45,363.78 405.45,363.87 410.46,363.95 415.46,364.01 420.46,364.07 425.47,364.11 430.47,364.14 435.47,364.16 440.48,364.17 445.48,364.17 450.48,364.16 455.49,364.13 460.49,364.09 465.49,364.05 470.5,363.99 475.5,363.92" fill="none" stroke="#000" stroke-width="1.0"/>
<line x1="489.5" y1="364.4" x2="498" y2="364.5" stroke="#000" stroke-width="1.0"/>
<polyline points="330.4,399.51 335.4,399.05 340.41,398.59 345.41,398.1 350.41,397.61 355.42,397.11 360.42,396.6 365.42,396.07 370.43,395.54 375.43,394.99 380.43,394.44 385.44,393.87 390.44,393.29 395.44,392.7 400.45,392.1 405.45,391.49 410.46,390.86 415.46,390.23 420.46,389.59 425.47,388.93 430.47,388.26 435.47,387.59 440.48,386.9 445.48,386.2 450.48,385.49 455.49,384.77 460.49,384.03 465.49,383.29 470.5,382.54 475.5,381.77" fill="none" stroke="#000" stroke-width="1.0"/>
<line x1="489" y1="380.6" x2="498" y2="380.4" stroke="#000" stroke-width="1.0"/>
<polyline points="336,453.49 340.85,452.39 345.7,451.26 350.56,450.13 355.41,448.97 360.26,447.8 365.11,446.62 369.96,445.42 374.81,444.2 379.67,442.97 384.52,441.72 389.37,440.45 394.22,439.17 399.07,437.87 403.92,436.56 408.78,435.23 413.63,433.88 418.48,432.52 423.33,431.15 428.18,429.75 433.03,428.34 437.89,426.92 442.74,425.48 447.59,424.02 452.44,422.55 457.29,421.06 462.14,419.55 467,418.03 471.85,416.5 476.7,414.94" fill="none" stroke="#000" stroke-width="1.1" stroke-dasharray="2.6 1.8"/>
<line x1="491.8" y1="410.2" x2="494" y2="409.6" stroke="#000" stroke-width="1.2"/>
<polygon points="326.8,298.6 334,298.6 330.4,292.4" fill="none" stroke="#000" stroke-width="1.1" stroke-linejoin="miter"/>
<polygon points="382.8,294 390,294 386.4,287.8" fill="none" stroke="#000" stroke-width="1.1" stroke-linejoin="miter"/>
<polygon points="438.6,289.8 445.8,289.8 442.2,283.6" fill="none" stroke="#000" stroke-width="1.1" stroke-linejoin="miter"/>
<polygon points="494.6,281.6 501.8,281.6 498.2,275.4" fill="none" stroke="#000" stroke-width="1.1" stroke-linejoin="miter"/>
<rect x="327.3" y="325.4" width="5.8" height="5.8" fill="#000"/>
<rect x="383.3" y="331.1" width="5.8" height="5.8" fill="#000"/>
<rect x="438.9" y="332" width="5.8" height="5.8" fill="#000"/>
<rect x="495.2" y="333" width="5.8" height="5.8" fill="#000"/>
<polygon points="326.2,338.4 334,338.4 330.1,331.6" fill="#000"/>
<polygon points="382.3,336.2 390.1,336.2 386.2,329.4" fill="#000"/>
<polygon points="437.9,331.7 445.7,331.7 441.8,324.9" fill="#000"/>
<polygon points="494.1,327.5 501.9,327.5 498,320.7" fill="#000"/>
<rect x="327.7" y="358.6" width="5.4" height="5.4" fill="none" stroke="#000" stroke-width="1.1"/>
<rect x="383.7" y="360.9" width="5.4" height="5.4" fill="none" stroke="#000" stroke-width="1.1"/>
<rect x="439.5" y="361.3" width="5.4" height="5.4" fill="none" stroke="#000" stroke-width="1.1"/>
<rect x="495.5" y="361.8" width="5.4" height="5.4" fill="none" stroke="#000" stroke-width="1.1"/>
<circle cx="330.4" cy="399.5" r="3.1" fill="none" stroke="#000" stroke-width="1.1"/>
<circle cx="386.4" cy="395.5" r="3.1" fill="none" stroke="#000" stroke-width="1.1"/>
<circle cx="442.2" cy="383.6" r="3.1" fill="none" stroke="#000" stroke-width="1.1"/>
<circle cx="498.2" cy="380.4" r="3.1" fill="none" stroke="#000" stroke-width="1.1"/>
<circle cx="330.4" cy="454" r="3.3" fill="#000"/>
<circle cx="386.4" cy="445.1" r="3.3" fill="#000"/>
<circle cx="442.2" cy="423.1" r="3.3" fill="#000"/>
<circle cx="498.2" cy="408.5" r="3.3" fill="#000"/>
<text x="485.6" y="283.6" font-size="12" text-anchor="middle" font-weight="normal">3</text>
<text x="483.9" y="326.3" font-size="12" text-anchor="middle" font-weight="normal">3</text>
<text x="483.6" y="340.7" font-size="12" text-anchor="middle" font-weight="normal">2</text>
<text x="483.3" y="367.4" font-size="12" text-anchor="middle" font-weight="normal">2</text>
<text x="482.7" y="384.7" font-size="12" text-anchor="middle" font-weight="normal">1</text>
<text x="483.8" y="416.2" font-size="12" text-anchor="middle" font-weight="normal">1</text>
<text x="493.5" y="458.2" font-size="11" text-anchor="middle" font-weight="bold">d)</text>
<text x="414.5" y="505.6" font-size="12" text-anchor="middle" font-weight="normal">Pressure [mTorr]</text>
<text transform="translate(290.3,374.6) rotate(-90)" font-size="12" text-anchor="middle">Density [cm<tspan font-size="8" dy="-5">-3</tspan><tspan dy="5">]</tspan></text>
<rect x="316.8" y="260.8" width="195.1" height="209.7" fill="none" stroke="#000" stroke-width="2.0" stroke-linejoin="miter"/>
</svg>
</body></html>
